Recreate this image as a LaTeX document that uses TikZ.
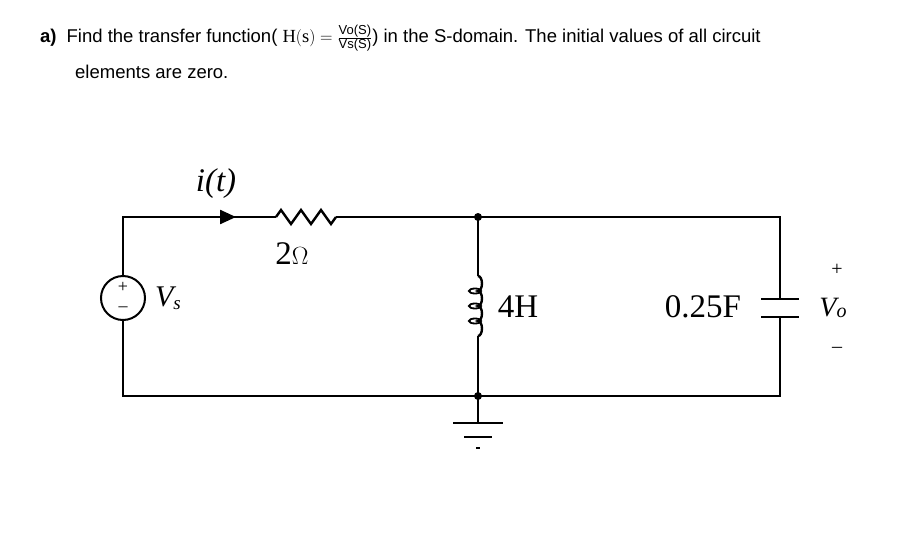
\documentclass[tikz,border=0pt]{standalone}
\usepackage{fontspec}
\setmainfont{Liberation Serif}
\newfontfamily\sansf{Liberation Sans}
\usetikzlibrary{arrows.meta}
\tikzset{wire/.style={line width=2.4pt},lbl/.style={inner sep=0pt,font=\fontsize{33}{36}\selectfont},
 txt/.style={inner sep=0pt,anchor=west,font=\sansf\fontsize{18.5}{20}\selectfont}}
\begin{document}
\begin{tikzpicture}[x=1pt,y=-1pt]
\useasboundingbox (0,0) rectangle (905,538);
\node[txt] (t1) at (40,38) {\textbf{a)}\hspace{10pt}Find the transfer function( $\mathrm{H(s)}=\frac{\hbox{\sansf\fontsize{13}{13}\selectfont Vo(S)}}{\hbox{\sansf\fontsize{13}{13}\selectfont Vs(S)}}$) in the S-domain. The initial values of all circuit};
\node[txt] (t2) at (75,72) {elements are zero.};
\coordinate (tl) at (123,217); \coordinate (bl) at (123,396);
\coordinate (jt) at (478,217); \coordinate (jb) at (478,396);
\coordinate (tr) at (780,217); \coordinate (br) at (780,396);
\node[draw,circle,line width=2pt,minimum size=44pt,inner sep=0pt] (src) at (123,298) {};
\node[inner sep=0pt,font=\fontsize{18}{18}\selectfont] (pl) at (123,287) {+};
\node[inner sep=0pt,font=\fontsize{18}{18}\selectfont] (mi) at (123,309) {--};
\node[lbl,font=\fontsize{30}{32}\selectfont\itshape] (vs) at (168,298) {V\raisebox{-3pt}{\fontsize{19}{19}\selectfont s}};
\draw[wire] (src.north) -- (tl) -- (276,217);
\draw[wire] (src.south) -- (bl) -- (jb) -- (br) -- (780,317);
\draw[wire] (276,217) -- (281,210) -- (291,224) -- (301,210) -- (311,224) -- (321,210) -- (331,224) -- (336,217);
\draw[wire] (336,217) -- (jt) -- (tr) -- (780,299);
\fill (jt) circle (4pt); \fill (jb) circle (4pt);
\draw[-{Triangle[length=16pt,width=14pt]},wire] (180,217) -- (236,217);
\node[lbl,font=\fontsize{33}{36}\selectfont\itshape] (it) at (216,184) {i(t)};
\node[lbl] (r) at (292,254) {2$\Omega$};
% inductor
\draw[wire] (jt) -- (478,276);
\draw[wire] (478,276) arc (90:-90:4pt and 7.5pt) arc (90:-90:4pt and 7.5pt) arc (90:-90:4pt and 7.5pt) arc (90:-90:4pt and 7.5pt);
\foreach \y in {291,306,321} \draw[line width=1.8pt] (475,\y) ellipse (6pt and 2.5pt);
\draw[wire] (478,336) -- (jb);
\node[lbl] (l) at (518,307) {4H};
% capacitor
\draw[wire] (761,299) -- (799,299); \draw[wire] (761,317) -- (799,317);
\node[lbl] (c) at (703,307) {0.25F};
\node[inner sep=0pt,font=\fontsize{20}{20}\selectfont] (p2) at (837,270) {+};
\node[lbl,font=\fontsize{28}{30}\selectfont\itshape] (vo) at (833,308) {V\raisebox{-1pt}{\fontsize{20}{20}\selectfont o}};
\node[inner sep=0pt,font=\fontsize{20}{20}\selectfont] (m2) at (837,350) {--};
% ground
\draw[wire] (jb) -- (478,423);
\draw[wire] (453,423) -- (503,423);
\draw[wire] (464,437) -- (492,437);
\draw[wire] (476,448) -- (480,448);
\end{tikzpicture}
\end{document}
